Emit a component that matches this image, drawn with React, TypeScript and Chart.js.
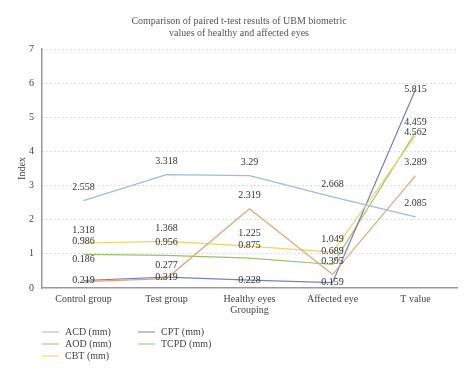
import React, { useEffect, useRef } from "react";
import { Chart, registerables } from "chart.js";

Chart.register(...registerables);

const categories = ["Control group", "Test group", "Healthy eyes", "Affected eye", "T value"];
const seriesNames = ["ACD (mm)", "AOD (mm)", "CBT (mm)", "CPT (mm)", "TCPD (mm)"];
const acd = [2.558, 3.318, 3.29, 2.668, 2.085];
const aod = [0.186, 0.277, 2.319, 0.395, 3.289];
const cbt = [1.318, 1.368, 1.225, 1.049, 4.459];
const cpt = [0.219, 0.319, 0.228, 0.159, 5.815];
const tcpd = [0.986, 0.956, 0.875, 0.689, 4.562];
const colors = ["#9fbbe0", "#dea474", "#f0d264", "#7880c0", "#98c06c"];
const yTicks = [0, 1, 2, 3, 4, 5, 6, 7];
const titleLines = ["Comparison of paired t-test results of UBM biometric", "values of healthy and affected eyes"];
const xTitle = "Grouping";
const yTitle = "Index";

const FONT = "'Liberation Serif', 'DejaVu Serif', serif";

export default function App() {
  const ref = useRef<HTMLCanvasElement | null>(null);
  useEffect(() => {
    document.body.style.margin = "0";
    const canvas = ref.current!;
    const values = [acd, aod, cbt, cpt, tcpd];
    // label placement: dy offset from point (px); CPT labels sit on the point
    const labelDy = (ds: number, i: number) => {
      if (ds === 3) return 0;
      if (ds === 4 && i === 4) return 0;
      if (ds === 1 && i === 0) return -22;
      return -13;
    };
    const labelPlugin = {
      id: "valueLabels",
      afterDatasetsDraw(chart: any) {
        const ctx = chart.ctx;
        ctx.save();
        ctx.font = `10px ${FONT}`;
        ctx.fillStyle = "#333";
        ctx.textAlign = "center";
        ctx.textBaseline = "middle";
        chart.data.datasets.forEach((d: any, di: number) => {
          const meta = chart.getDatasetMeta(di);
          meta.data.forEach((pt: any, i: number) => {
            ctx.fillText(String(d.data[i]), pt.x, pt.y + labelDy(di, i));
          });
        });
        ctx.restore();
      },
    };
    const extrasPlugin = {
      id: "extras",
      afterDraw(chart: any) {
        const ctx = chart.ctx;
        const area = chart.chartArea;
        ctx.save();
        ctx.font = `10px ${FONT}`;
        ctx.fillStyle = "#444";
        ctx.textBaseline = "middle";
        // axis titles
        ctx.textAlign = "center";
        ctx.fillText(xTitle, (area.left + area.right) / 2, area.bottom + 22);
        ctx.save();
        ctx.translate(area.left - 20, (area.top + area.bottom) / 2);
        ctx.rotate(-Math.PI / 2);
        ctx.fillText(yTitle, 0, 0);
        ctx.restore();
        // legend
        ctx.textAlign = "left";
        const startY = area.bottom + 44;
        const rowH = 12;
        seriesNames.forEach((name, idx) => {
          const col = idx < 3 ? 0 : 1;
          const row = idx < 3 ? idx : idx - 3;
          const x = col === 0 ? 42 : 138;
          const y = startY + row * rowH;
          ctx.strokeStyle = colors[idx];
          ctx.lineWidth = 1;
          ctx.beginPath();
          ctx.moveTo(x, y);
          ctx.lineTo(x + 17, y);
          ctx.stroke();
          ctx.fillText(name, x + 23, y);
        });
        ctx.restore();
      },
    };
    const chart = new Chart(canvas, {
      type: "line",
      data: {
        labels: categories,
        datasets: seriesNames.map((n, i) => ({
          label: n,
          data: values[i],
          borderColor: colors[i],
          backgroundColor: colors[i],
          borderWidth: 1.2,
          pointRadius: 0,
          tension: 0,
          fill: false,
        })),
      },
      options: {
        animation: false,
        responsive: false,
        layout: { padding: { left: 21, right: 17, top: 0, bottom: 67 } },
        plugins: {
          legend: { display: false },
          tooltip: { enabled: false },
          title: {
            display: true,
            text: titleLines,
            color: "#555",
            font: { family: FONT, size: 10, weight: "normal", lineHeight: 1.2 },
            padding: { top: 15, bottom: 10 },
          },
        },
        scales: {
          x: {
            offset: true,
            grid: { display: false, drawTicks: false },
            border: { display: true, color: "#999", width: 1.5 },
            ticks: { color: "#444", font: { family: FONT, size: 10 }, padding: 5, maxRotation: 0 },
          },
          y: {
            min: 0,
            max: 7,
            afterBuildTicks: (axis: any) => {
              axis.ticks = yTicks.map((v) => ({ value: v }));
            },
            grid: {
              color: (c: any) => (c.tick && c.tick.value === 0 ? "rgba(0,0,0,0)" : "#bdbdbd"),
              drawTicks: false,
            },
            border: { display: true, color: "#999", width: 1.5, dash: [1, 3] },
            ticks: { color: "#444", font: { family: FONT, size: 10 }, padding: 8 },
          },
        },
      },
      plugins: [labelPlugin, extrasPlugin],
    } as any);
    return () => chart.destroy();
  }, []);
  return <canvas ref={ref} width={474} height={377} style={{ display: "block" }} />;
}
